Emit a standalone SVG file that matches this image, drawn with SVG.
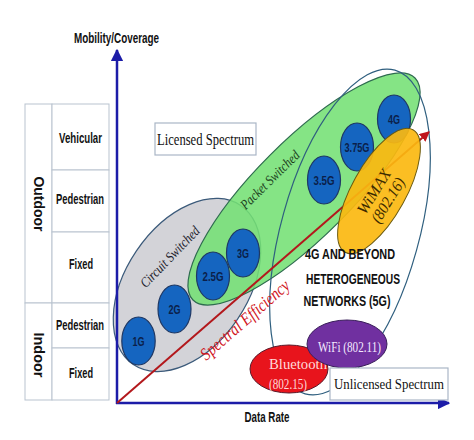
<svg xmlns="http://www.w3.org/2000/svg" width="474" height="440" viewBox="0 0 474 440">
<defs>
<style>
.lbl{font-family:"Liberation Sans",Arial,sans-serif;font-weight:bold;fill:#111;}
.ser{font-family:"Liberation Serif","Times New Roman",serif;}
.gen{fill:#1565c0;stroke:#1f3864;stroke-width:1.2;}
.gtx{font-family:"Liberation Sans",Arial,sans-serif;font-weight:bold;font-size:13.5px;fill:#0b1f4a;text-anchor:middle;}
.cell{fill:#fff;stroke:#b9c3cf;stroke-width:1;}
.box{fill:#fff;stroke:#aab6c6;stroke-width:1.2;}
</style>
<marker id="ab" viewBox="0 0 10 10" refX="9" refY="5" markerWidth="5" markerHeight="5" orient="auto"><path d="M0,0 L10,5 L0,10 z" fill="#1c1ca8"/></marker>
<marker id="ar" viewBox="0 0 10 10" refX="9" refY="5" markerWidth="5" markerHeight="5" orient="auto"><path d="M0,0 L10,5 L0,10 z" fill="#c0141c"/></marker>
</defs>
<rect width="474" height="440" fill="#fff"/>

<g id="table">
<rect class="cell" x="25" y="104" width="27" height="199"/>
<rect class="cell" x="25" y="303" width="27" height="97"/>
<rect class="cell" x="52" y="104" width="57" height="66"/>
<rect class="cell" x="52" y="170" width="57" height="62"/>
<rect class="cell" x="52" y="232" width="57" height="71"/>
<rect class="cell" x="52" y="303" width="57" height="45"/>
<rect class="cell" x="52" y="348" width="57" height="52"/>
<text class="lbl" x="80.5" y="142.5" font-size="15" text-anchor="middle" textLength="43" lengthAdjust="spacingAndGlyphs">Vehicular</text>
<text class="lbl" x="80" y="203.5" font-size="15" text-anchor="middle" textLength="48" lengthAdjust="spacingAndGlyphs">Pedestrian</text>
<text class="lbl" x="81" y="268.5" font-size="15" text-anchor="middle" textLength="24" lengthAdjust="spacingAndGlyphs">Fixed</text>
<text class="lbl" x="80" y="329.5" font-size="15" text-anchor="middle" textLength="48" lengthAdjust="spacingAndGlyphs">Pedestrian</text>
<text class="lbl" x="81" y="377.5" font-size="15" text-anchor="middle" textLength="24" lengthAdjust="spacingAndGlyphs">Fixed</text>
<text class="lbl" transform="translate(34,204) rotate(90)" x="0" y="0" font-size="14.5" text-anchor="middle" textLength="55" lengthAdjust="spacingAndGlyphs">Outdoor</text>
<text class="lbl" transform="translate(34,355) rotate(90)" x="0" y="0" font-size="14.5" text-anchor="middle" textLength="45" lengthAdjust="spacingAndGlyphs">Indoor</text>
</g>

<g id="axis-labels">
<text class="lbl" x="116.5" y="43" font-size="14" text-anchor="middle" textLength="85" lengthAdjust="spacingAndGlyphs">Mobility/Coverage</text>
<text class="lbl" x="267" y="421.5" font-size="14" text-anchor="middle" textLength="45" lengthAdjust="spacingAndGlyphs">Data Rate</text>
</g>

<g id="licensed">
<rect class="box" x="155" y="123" width="101" height="32"/>
<text class="ser" x="205.5" y="144.5" font-size="16.5" text-anchor="middle" fill="#111" textLength="97" lengthAdjust="spacingAndGlyphs">Licensed Spectrum</text>
</g>

<g id="circuit">
<ellipse cx="187" cy="285" rx="96" ry="61" transform="rotate(-56 187 285)" fill="#d3d3d8" stroke="#3b5a7a" stroke-width="1.2"/>
<text class="ser" transform="translate(170,257) rotate(-46)" x="0" y="4.5" font-size="14" font-style="italic" fill="#1a1a2a" text-anchor="middle" textLength="79" lengthAdjust="spacingAndGlyphs">Circuit Switched</text>
</g>

<g id="packet">
<ellipse cx="304" cy="189" rx="157" ry="48" transform="rotate(-45 304 189)" fill="#74e074" fill-opacity="0.88" stroke="#2e6b4f" stroke-width="1.2"/>
<text class="ser" transform="translate(270,180) rotate(-44.5)" x="0" y="4.5" font-size="14" font-style="italic" fill="#1b3d1b" text-anchor="middle" textLength="77" lengthAdjust="spacingAndGlyphs">Packet Switched</text>
</g>

<g id="hetnet">
<ellipse cx="350" cy="232" rx="69" ry="168" transform="rotate(15.5 350 232)" fill="none" stroke="#2f5f7f" stroke-width="1.2"/>
</g>

<g id="g1"><ellipse class="gen" cx="138.5" cy="341" rx="16.7" ry="24"/><text class="gtx" x="138.5" y="346" textLength="12" lengthAdjust="spacingAndGlyphs">1G</text></g>
<g id="g2"><ellipse class="gen" cx="174.5" cy="309" rx="16.5" ry="24"/><text class="gtx" x="174.5" y="314" textLength="12" lengthAdjust="spacingAndGlyphs">2G</text></g>
<g id="g25"><ellipse class="gen" cx="213" cy="276" rx="16.5" ry="24"/><text class="gtx" x="213" y="281" textLength="21" lengthAdjust="spacingAndGlyphs">2.5G</text></g>
<g id="g3"><ellipse class="gen" cx="243" cy="253" rx="16.5" ry="24"/><text class="gtx" x="243" y="258" textLength="12" lengthAdjust="spacingAndGlyphs">3G</text></g>
<g id="g35"><ellipse class="gen" cx="324" cy="180" rx="16.5" ry="24"/><text class="gtx" x="324" y="185" textLength="21" lengthAdjust="spacingAndGlyphs">3.5G</text></g>
<g id="g375"><ellipse class="gen" cx="357" cy="147" rx="16.5" ry="24"/><text class="gtx" x="357" y="152" textLength="25" lengthAdjust="spacingAndGlyphs">3.75G</text></g>
<g id="g4"><ellipse class="gen" cx="394" cy="119" rx="16.5" ry="24"/><text class="gtx" x="394" y="124" textLength="12" lengthAdjust="spacingAndGlyphs">4G</text></g>

<g id="connectors">
<line x1="117" y1="404" x2="117" y2="50" stroke="#1c1ca8" stroke-width="2.5" marker-end="url(#ab)"/>
<line x1="116" y1="403" x2="449" y2="403" stroke="#1c1ca8" stroke-width="2.5" marker-end="url(#ab)"/>
<line x1="117" y1="403" x2="429" y2="132" stroke="#b3181c" stroke-width="2" marker-end="url(#ar)"/>
</g>

<g id="spectral">
<text class="ser" transform="translate(245,320) rotate(-41)" x="0" y="5.5" font-size="17.5" font-style="italic" fill="#d0141c" text-anchor="middle" textLength="112" lengthAdjust="spacingAndGlyphs">Spectral Efficiency</text>
</g>

<g id="wimax">
<ellipse cx="379" cy="191" rx="70" ry="27" transform="rotate(-61 379 191)" fill="#fbb910" fill-opacity="0.92" stroke="#6b5a10" stroke-width="1"/>
<g transform="translate(381,196) rotate(-58)">
<text class="ser" x="0" y="-3" font-size="16" font-style="italic" fill="#3d2b00" text-anchor="middle" textLength="50" lengthAdjust="spacingAndGlyphs">WiMAX</text>
<text class="ser" x="0" y="13.5" font-size="16" font-style="italic" fill="#3d2b00" text-anchor="middle" textLength="50" lengthAdjust="spacingAndGlyphs">(802.16)</text>
</g>
</g>

<g id="hetnet-label">
<text class="lbl" x="350" y="258.5" font-size="15.5" text-anchor="middle" textLength="90" lengthAdjust="spacingAndGlyphs">4G AND BEYOND</text>
<text class="lbl" x="353" y="283.5" font-size="15.5" text-anchor="middle" textLength="94" lengthAdjust="spacingAndGlyphs">HETEROGENEOUS</text>
<text class="lbl" x="347" y="305.5" font-size="15.5" text-anchor="middle" textLength="87" lengthAdjust="spacingAndGlyphs">NETWORKS (5G)</text>
</g>

<g id="bluetooth">
<ellipse cx="289" cy="369" rx="39" ry="24" fill="#e8141c" stroke="#5a1a2a" stroke-width="1"/>
<text class="ser" x="298" y="368.5" font-size="15.5" fill="#ffdada" text-anchor="middle" textLength="58" lengthAdjust="spacingAndGlyphs">Bluetooth</text>
<text class="ser" x="288" y="388.5" font-size="15.5" fill="#ffdada" text-anchor="middle" textLength="38" lengthAdjust="spacingAndGlyphs">(802.15)</text>
</g>

<g id="wifi">
<ellipse cx="347" cy="344" rx="40" ry="24" fill="#7030a0" stroke="#3a1f5a" stroke-width="1"/>
<text class="ser" x="349.5" y="351.5" font-size="15.5" fill="#f4eaff" text-anchor="middle" textLength="63" lengthAdjust="spacingAndGlyphs">WiFi (802.11)</text>
</g>

<g id="unlicensed">
<rect class="box" x="330" y="368" width="118" height="32"/>
<text class="ser" x="389" y="389" font-size="15.5" text-anchor="middle" fill="#111" textLength="110" lengthAdjust="spacingAndGlyphs">Unlicensed Spectrum</text>
</g>
</svg>
